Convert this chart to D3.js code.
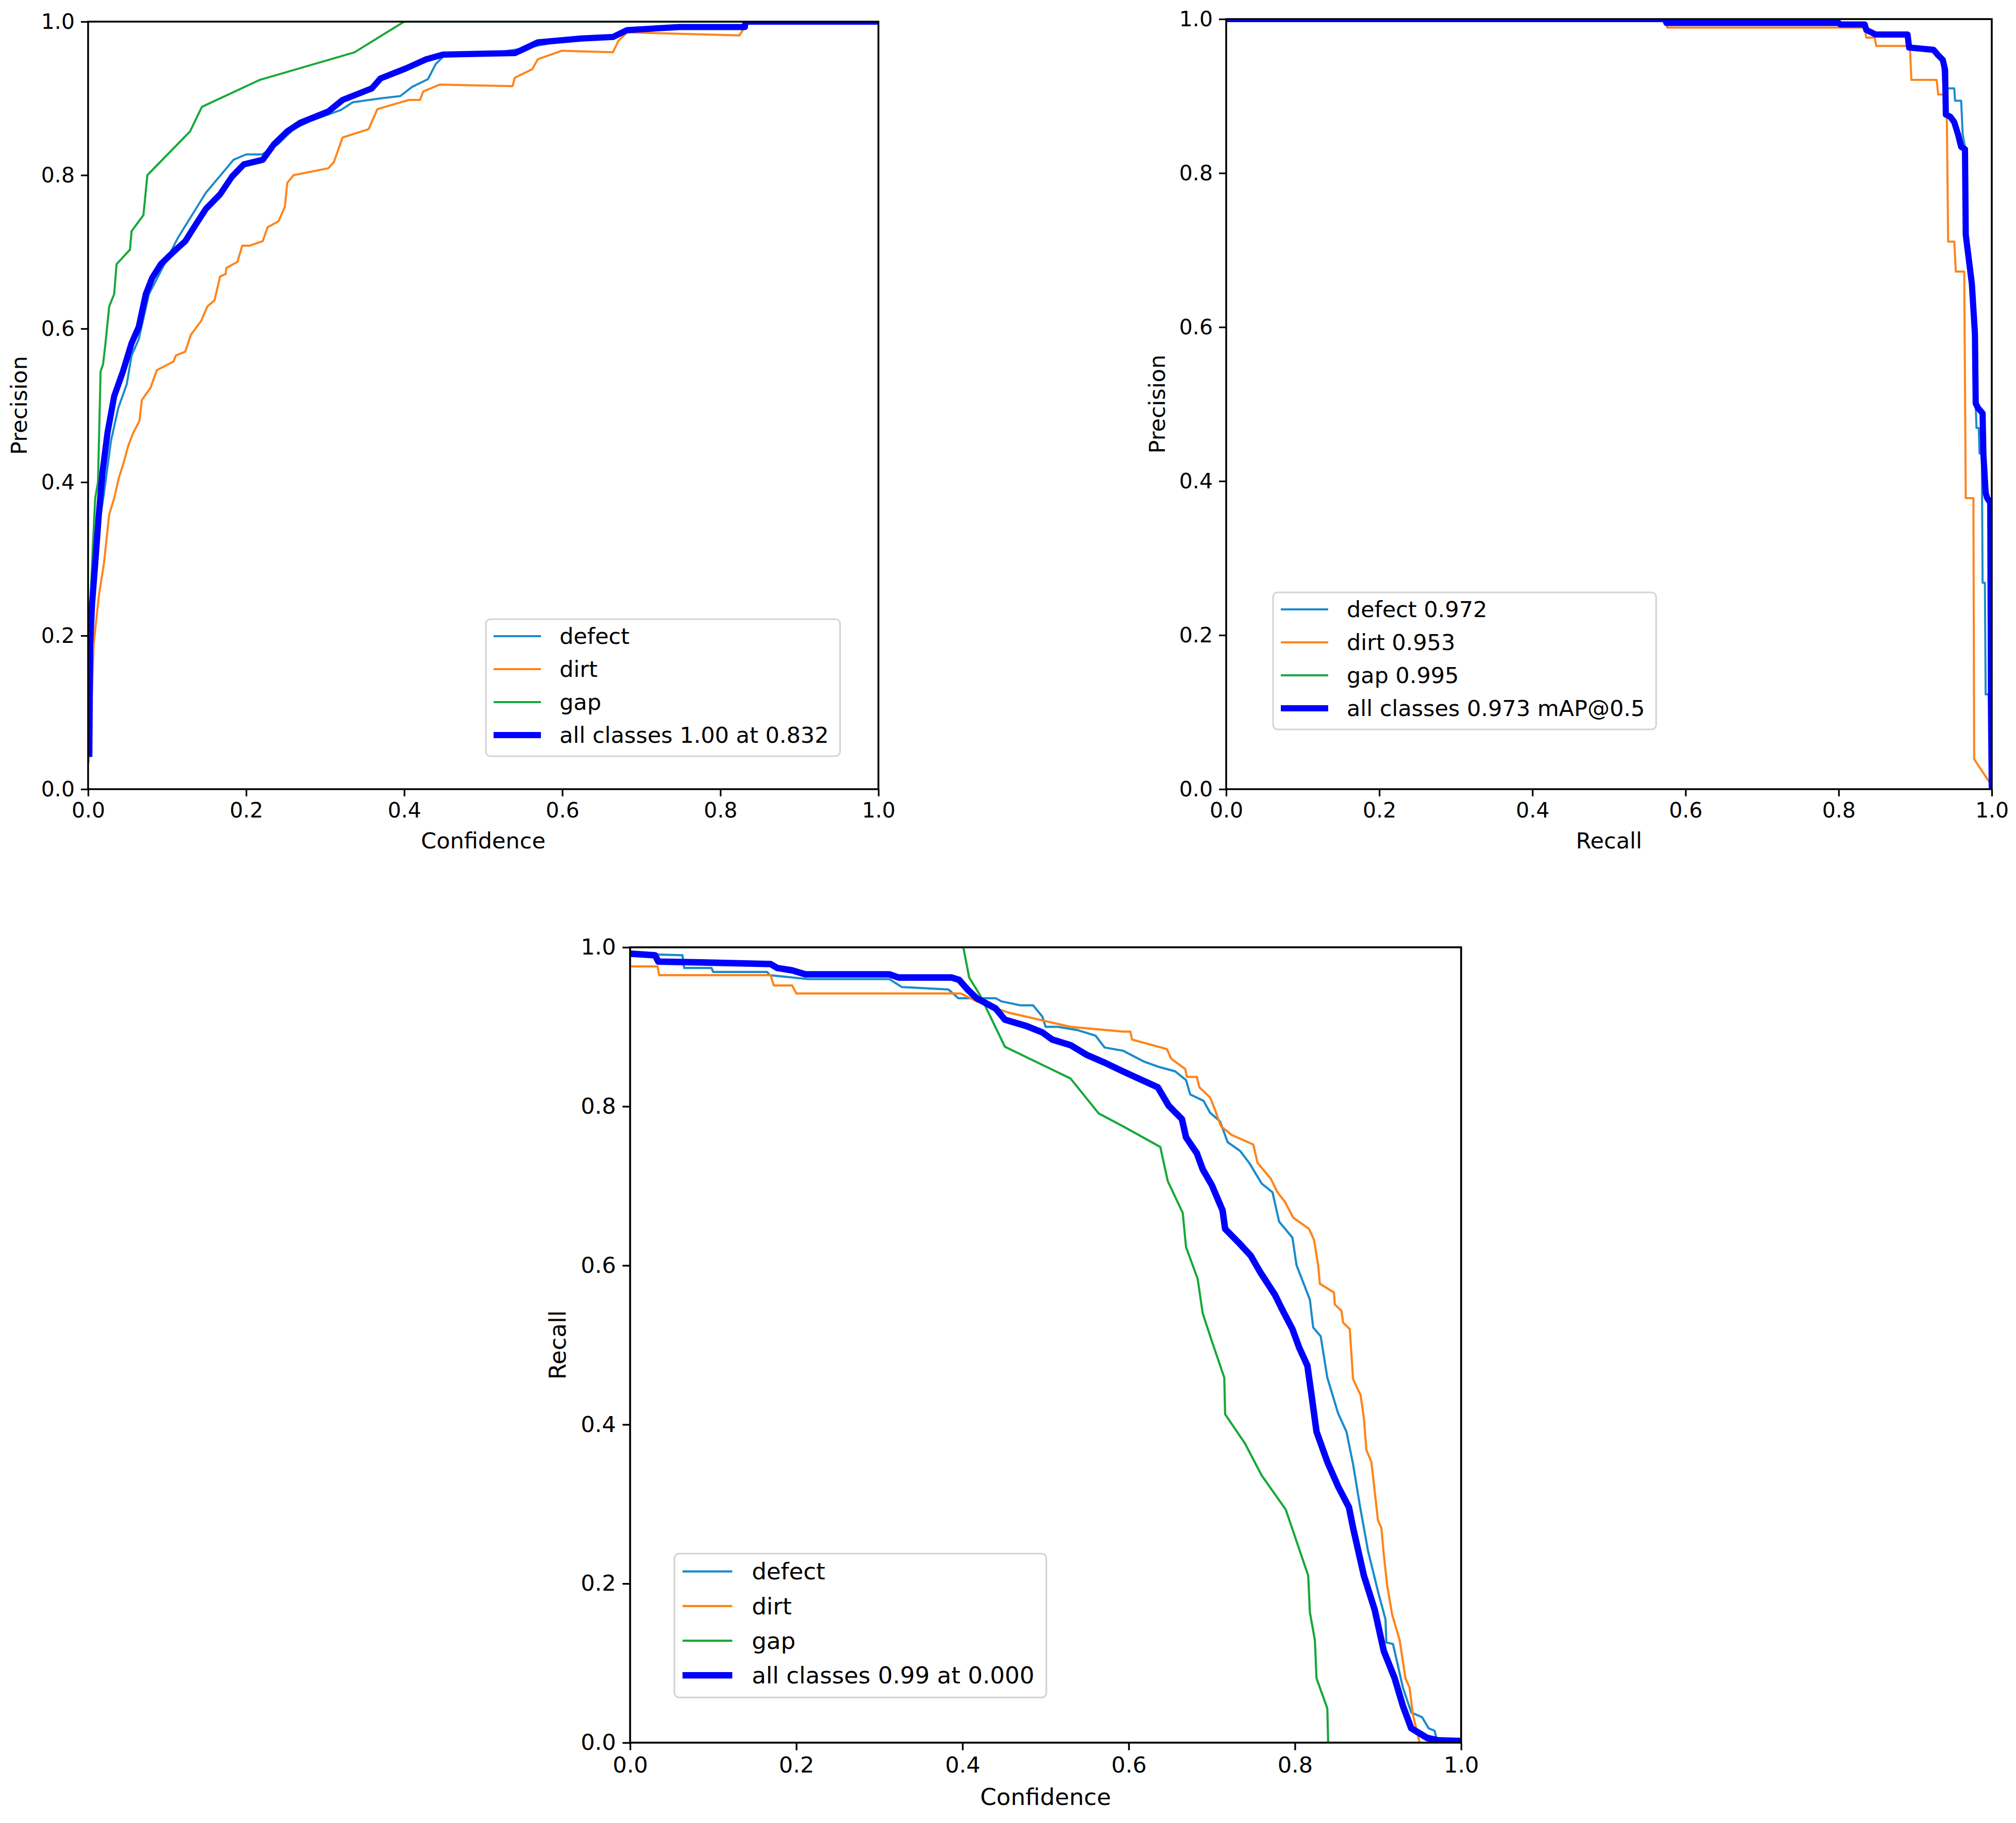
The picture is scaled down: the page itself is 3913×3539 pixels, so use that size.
<!DOCTYPE html>
<html>
<head>
<meta charset="utf-8">
<script src="https://cdn.jsdelivr.net/npm/d3@7"></script>
<style>
  body { margin: 0; background: #fff; }
  svg { display: block; }
</style>
</head>
<body>
<script>
// series colours and names
const classNames = ["defect", "dirt", "gap"];
const lineColors = ["#1a8bcb", "#ff8419", "#17a83a", "#0000ff"];
const tickValues = [0, 0.2, 0.4, 0.6, 0.8, 1.0];

// --- Precision vs Confidence ---
const pcDefect = [[0.0015,0.042],[0.003,0.18],[0.006,0.25],[0.01,0.30],[0.015,0.35],[0.020,0.385],[0.029,0.454],[0.038,0.496],[0.049,0.528],[0.055,0.565],[0.064,0.586],[0.077,0.645],[0.090,0.671],[0.114,0.719],[0.149,0.777],[0.184,0.82],[0.2,0.827],[0.22,0.827],[0.24,0.84],[0.26,0.86],[0.28,0.87],[0.32,0.885],[0.335,0.895],[0.37,0.90],[0.395,0.903],[0.41,0.915],[0.43,0.925],[0.44,0.945],[0.45,0.955],[0.5,0.957],[0.55,0.965],[0.6,0.975],[0.62,0.975],[0.665,0.98],[0.685,0.99],[0.75,0.993],[0.832,0.993],[0.833,1.0],[1.0,1.0]];
const pcDirt = [[0.002,0.05],[0.007,0.188],[0.0136,0.252],[0.020,0.294],[0.0267,0.358],[0.033,0.379],[0.039,0.406],[0.044,0.422],[0.051,0.448],[0.057,0.464],[0.065,0.48],[0.068,0.507],[0.079,0.523],[0.087,0.546],[0.108,0.557],[0.111,0.565],[0.123,0.57],[0.13,0.592],[0.143,0.61],[0.151,0.629],[0.16,0.637],[0.167,0.668],[0.174,0.671],[0.175,0.679],[0.189,0.687],[0.195,0.708],[0.204,0.708],[0.221,0.714],[0.227,0.732],[0.241,0.74],[0.249,0.759],[0.252,0.79],[0.260,0.80],[0.304,0.809],[0.311,0.817],[0.322,0.849],[0.355,0.860],[0.366,0.886],[0.406,0.898],[0.42,0.898],[0.424,0.909],[0.445,0.918],[0.537,0.916],[0.54,0.927],[0.562,0.938],[0.569,0.951],[0.599,0.962],[0.664,0.960],[0.671,0.975],[0.682,0.986],[0.824,0.982],[0.829,0.99],[0.833,1.0],[1.0,1.0]];
const pcGap = [[0.0004,0.034],[0.0037,0.263],[0.006,0.316],[0.009,0.379],[0.0125,0.40],[0.0158,0.544],[0.019,0.554],[0.022,0.581],[0.0267,0.629],[0.033,0.645],[0.036,0.684],[0.053,0.703],[0.055,0.727],[0.070,0.748],[0.075,0.80],[0.129,0.857],[0.144,0.889],[0.217,0.924],[0.337,0.96],[0.40,1.0],[1.0,1.0]];
const pcAll = [[0.0015,0.042],[0.0026,0.188],[0.005,0.241],[0.009,0.294],[0.0136,0.358],[0.018,0.411],[0.0245,0.464],[0.033,0.512],[0.044,0.544],[0.055,0.581],[0.064,0.602],[0.073,0.645],[0.081,0.666],[0.092,0.684],[0.108,0.70],[0.123,0.714],[0.134,0.732],[0.149,0.756],[0.167,0.775],[0.182,0.798],[0.197,0.814],[0.221,0.82],[0.235,0.84],[0.252,0.857],[0.268,0.868],[0.304,0.883],[0.322,0.898],[0.359,0.913],[0.370,0.926],[0.402,0.939],[0.428,0.951],[0.449,0.957],[0.493,0.958],[0.540,0.959],[0.569,0.973],[0.624,0.978],[0.664,0.980],[0.682,0.989],[0.748,0.993],[0.831,0.993],[0.832,1.0],[1.0,1.0]];
const pcLabels = ["defect", "dirt", "gap", "all classes 1.00 at 0.832"];

// --- Precision vs Recall ---
const prDefect = [[0,1],[0.575,1],[0.577,0.995],[0.834,0.995],[0.836,0.986],[0.847,0.98],[0.89,0.98],[0.892,0.963],[0.924,0.96],[0.93,0.953],[0.935,0.947],[0.937,0.91],[0.951,0.91],[0.952,0.894],[0.960,0.894],[0.962,0.85],[0.965,0.834],[0.966,0.72],[0.97,0.688],[0.974,0.656],[0.978,0.591],[0.979,0.50],[0.980,0.469],[0.983,0.469],[0.984,0.436],[0.987,0.436],[0.988,0.268],[0.991,0.268],[0.992,0.123],[0.996,0.123],[0.997,0.094],[1.0,0.0]];
const prDirt = [[0,1],[0.574,1],[0.576,0.989],[0.834,0.989],[0.836,0.976],[0.847,0.976],[0.849,0.965],[0.893,0.965],[0.895,0.921],[0.928,0.921],[0.930,0.902],[0.941,0.902],[0.943,0.711],[0.951,0.711],[0.953,0.672],[0.964,0.672],[0.966,0.378],[0.976,0.378],[0.977,0.039],[0.999,0.006],[1.0,0.0]];
const prGap = [[0,1],[1,1],[1,0]];
const prAll = [[0,1],[0.573,1],[0.575,0.995],[0.80,0.995],[0.802,0.993],[0.834,0.993],[0.836,0.986],[0.848,0.98],[0.89,0.98],[0.892,0.963],[0.924,0.96],[0.93,0.953],[0.936,0.947],[0.939,0.934],[0.94,0.876],[0.946,0.873],[0.951,0.866],[0.956,0.85],[0.96,0.834],[0.965,0.831],[0.966,0.72],[0.97,0.688],[0.974,0.656],[0.978,0.591],[0.979,0.501],[0.982,0.495],[0.988,0.488],[0.989,0.436],[0.992,0.385],[0.994,0.378],[0.998,0.372],[0.999,0.1],[1.0,0.0]];
const prLabels = ["defect 0.972", "dirt 0.953", "gap 0.995", "all classes 0.973 mAP@0.5"];

// --- Recall vs Confidence ---
const rcDefect = [[0,0.992],[0.063,0.99],[0.065,0.974],[0.098,0.974],[0.1,0.969],[0.165,0.969],[0.168,0.965],[0.214,0.96],[0.312,0.96],[0.327,0.95],[0.383,0.947],[0.395,0.936],[0.44,0.936],[0.447,0.932],[0.47,0.927],[0.485,0.927],[0.496,0.913],[0.5,0.9],[0.515,0.9],[0.538,0.896],[0.56,0.889],[0.571,0.874],[0.593,0.870],[0.619,0.856],[0.635,0.85],[0.656,0.844],[0.669,0.833],[0.674,0.815],[0.69,0.807],[0.698,0.792],[0.71,0.781],[0.719,0.755],[0.734,0.744],[0.745,0.729],[0.76,0.703],[0.773,0.692],[0.781,0.655],[0.797,0.635],[0.802,0.6],[0.818,0.557],[0.822,0.522],[0.831,0.511],[0.839,0.459],[0.852,0.414],[0.862,0.391],[0.87,0.35],[0.878,0.299],[0.888,0.241],[0.9,0.19],[0.909,0.155],[0.91,0.126],[0.918,0.124],[0.93,0.069],[0.94,0.038],[0.953,0.032],[0.961,0.018],[0.968,0.015],[0.971,0.003],[1,0.002]];
const rcDirt = [[0,0.976],[0.033,0.976],[0.035,0.965],[0.169,0.965],[0.173,0.952],[0.195,0.952],[0.2,0.942],[0.398,0.942],[0.417,0.932],[0.455,0.918],[0.53,0.90],[0.593,0.894],[0.602,0.894],[0.604,0.884],[0.646,0.872],[0.651,0.86],[0.668,0.847],[0.67,0.837],[0.682,0.837],[0.685,0.824],[0.698,0.811],[0.703,0.798],[0.711,0.775],[0.724,0.764],[0.75,0.752],[0.755,0.729],[0.771,0.709],[0.779,0.692],[0.788,0.68],[0.798,0.66],[0.817,0.646],[0.823,0.632],[0.828,0.6],[0.83,0.577],[0.847,0.566],[0.848,0.551],[0.856,0.543],[0.858,0.528],[0.866,0.52],[0.87,0.457],[0.879,0.437],[0.883,0.408],[0.886,0.368],[0.892,0.353],[0.9,0.279],[0.904,0.27],[0.907,0.236],[0.911,0.198],[0.917,0.161],[0.926,0.129],[0.933,0.081],[0.938,0.069],[0.942,0.035],[0.95,0],[1,0]];
const rcGap = [[0,1],[0.401,1],[0.408,0.962],[0.421,0.94],[0.451,0.875],[0.53,0.835],[0.564,0.791],[0.593,0.775],[0.638,0.749],[0.647,0.706],[0.665,0.666],[0.669,0.623],[0.683,0.583],[0.689,0.54],[0.7,0.505],[0.715,0.459],[0.716,0.413],[0.74,0.376],[0.76,0.336],[0.789,0.293],[0.816,0.21],[0.818,0.164],[0.824,0.129],[0.826,0.081],[0.839,0.043],[0.84,0],[1,0]];
const rcAll = [[0,0.992],[0.03,0.99],[0.034,0.982],[0.086,0.981],[0.169,0.979],[0.177,0.974],[0.195,0.971],[0.211,0.966],[0.312,0.966],[0.323,0.962],[0.387,0.962],[0.396,0.959],[0.406,0.947],[0.417,0.936],[0.44,0.923],[0.451,0.909],[0.477,0.901],[0.496,0.893],[0.508,0.884],[0.53,0.877],[0.549,0.865],[0.571,0.855],[0.593,0.844],[0.635,0.824],[0.648,0.801],[0.664,0.784],[0.669,0.761],[0.682,0.741],[0.689,0.721],[0.700,0.701],[0.713,0.669],[0.716,0.646],[0.732,0.629],[0.747,0.612],[0.758,0.592],[0.776,0.563],[0.784,0.546],[0.797,0.52],[0.805,0.497],[0.815,0.474],[0.820,0.437],[0.826,0.391],[0.839,0.353],[0.852,0.322],[0.865,0.296],[0.870,0.270],[0.883,0.210],[0.896,0.167],[0.907,0.115],[0.920,0.081],[0.930,0.046],[0.940,0.018],[0.959,0.006],[0.972,0.003],[1.0,0.002]];
const rcLabels = ["defect", "dirt", "gap", "all classes 0.99 at 0.000"];

const width = 3913, height = 3539;
const font = "DejaVu Sans, sans-serif";

const svg = d3.select("body").append("svg")
    .attr("width", width)
    .attr("height", height)
    .style("background", "#fff");

const panels = [
    { left: 171, right: 1705, top: 42, bottom: 1532, k: 1,
      xlabel: "Confidence", ylabel: "Precision",
      series: [pcDefect, pcDirt, pcGap, pcAll], labels: pcLabels,
      legend: [943, 1202] },
    { left: 2380, right: 3866, top: 37, bottom: 1532, k: 1,
      xlabel: "Recall", ylabel: "Precision",
      series: [prDefect, prDirt, prGap, prAll], labels: prLabels,
      legend: [2471, 1150] },
    { left: 1223, right: 2836, top: 1839, bottom: 3383, k: 1.05,
      xlabel: "Confidence", ylabel: "Recall",
      series: [rcDefect, rcDirt, rcGap, rcAll], labels: rcLabels,
      legend: [1309, 3016] }
];

function styleAxis(axisG, k) {
    axisG.select(".domain").remove();
    axisG.selectAll(".tick line").attr("stroke", "#000").attr("stroke-width", 3.2 * k);
    axisG.selectAll(".tick text")
        .attr("fill", "#000")
        .style("font-family", font)
        .style("font-size", (41 * k) + "px");
}

panels.forEach((p, idx) => {
    const k = p.k;
    const x = d3.scaleLinear().domain([0, 1]).range([p.left, p.right]);
    const y = d3.scaleLinear().domain([0, 1]).range([p.bottom, p.top]);
    const g = svg.append("g");

    g.append("clipPath").attr("id", "clip" + idx)
        .append("rect")
        .attr("x", p.left).attr("y", p.top)
        .attr("width", p.right - p.left).attr("height", p.bottom - p.top);

    const line = d3.line().x(d => x(d[0])).y(d => y(d[1]));

    const plot = g.append("g").attr("clip-path", `url(#clip${idx})`);
    p.series.forEach((s, i) => {
        plot.append("path")
            .datum(s)
            .attr("fill", "none")
            .attr("stroke", lineColors[i])
            .attr("stroke-width", (i === 3 ? 12 : 4) * k)
            .attr("stroke-linejoin", "round")
            .attr("stroke-linecap", "butt")
            .attr("d", line);
    });

    const xAxis = g.append("g")
        .attr("transform", `translate(0,${p.bottom})`)
        .call(d3.axisBottom(x).tickValues(tickValues).tickFormat(d3.format(".1f"))
            .tickSize(14 * k).tickPadding(12 * k));
    styleAxis(xAxis, k);

    const yAxis = g.append("g")
        .attr("transform", `translate(${p.left},0)`)
        .call(d3.axisLeft(y).tickValues(tickValues).tickFormat(d3.format(".1f"))
            .tickSize(14 * k).tickPadding(12 * k));
    styleAxis(yAxis, k);

    g.append("rect")
        .attr("x", p.left).attr("y", p.top)
        .attr("width", p.right - p.left).attr("height", p.bottom - p.top)
        .attr("fill", "none")
        .attr("stroke", "#000")
        .attr("stroke-width", 3.5 * k);

    g.append("text")
        .attr("x", (p.left + p.right) / 2)
        .attr("y", p.bottom + 100 * k)
        .attr("dy", "0.35em")
        .attr("text-anchor", "middle")
        .style("font-family", font)
        .style("font-size", (43 * k) + "px")
        .text(p.xlabel);

    g.append("text")
        .attr("transform", `translate(${p.left - 134 * k},${(p.top + p.bottom) / 2}) rotate(-90)`)
        .attr("dy", "0.35em")
        .attr("text-anchor", "middle")
        .style("font-family", font)
        .style("font-size", (43 * k) + "px")
        .text(p.ylabel);

    // legend
    const lg = g.append("g").attr("transform", `translate(${p.legend[0]},${p.legend[1]})`);
    const box = lg.append("rect")
        .attr("rx", 9 * k).attr("ry", 9 * k)
        .attr("fill", "#fff").attr("fill-opacity", 0.85)
        .attr("stroke", "#d3d3d3").attr("stroke-width", 3 * k)
        .attr("height", 266 * k);
    let maxLen = 0;
    p.labels.forEach((lab, i) => {
        const cy = (33 + 64 * i) * k;
        lg.append("line")
            .attr("x1", 15 * k).attr("x2", 107 * k)
            .attr("y1", cy).attr("y2", cy)
            .attr("stroke", lineColors[i])
            .attr("stroke-width", (i === 3 ? 12 : 4) * k);
        const t = lg.append("text")
            .attr("x", 143 * k).attr("y", cy)
            .attr("dy", "0.35em")
            .style("font-family", font)
            .style("font-size", (43 * k) + "px")
            .text(lab);
        maxLen = Math.max(maxLen, t.node().getComputedTextLength());
    });
    box.attr("width", 143 * k + maxLen + 22 * k);
});
</script>
</body>
</html>
